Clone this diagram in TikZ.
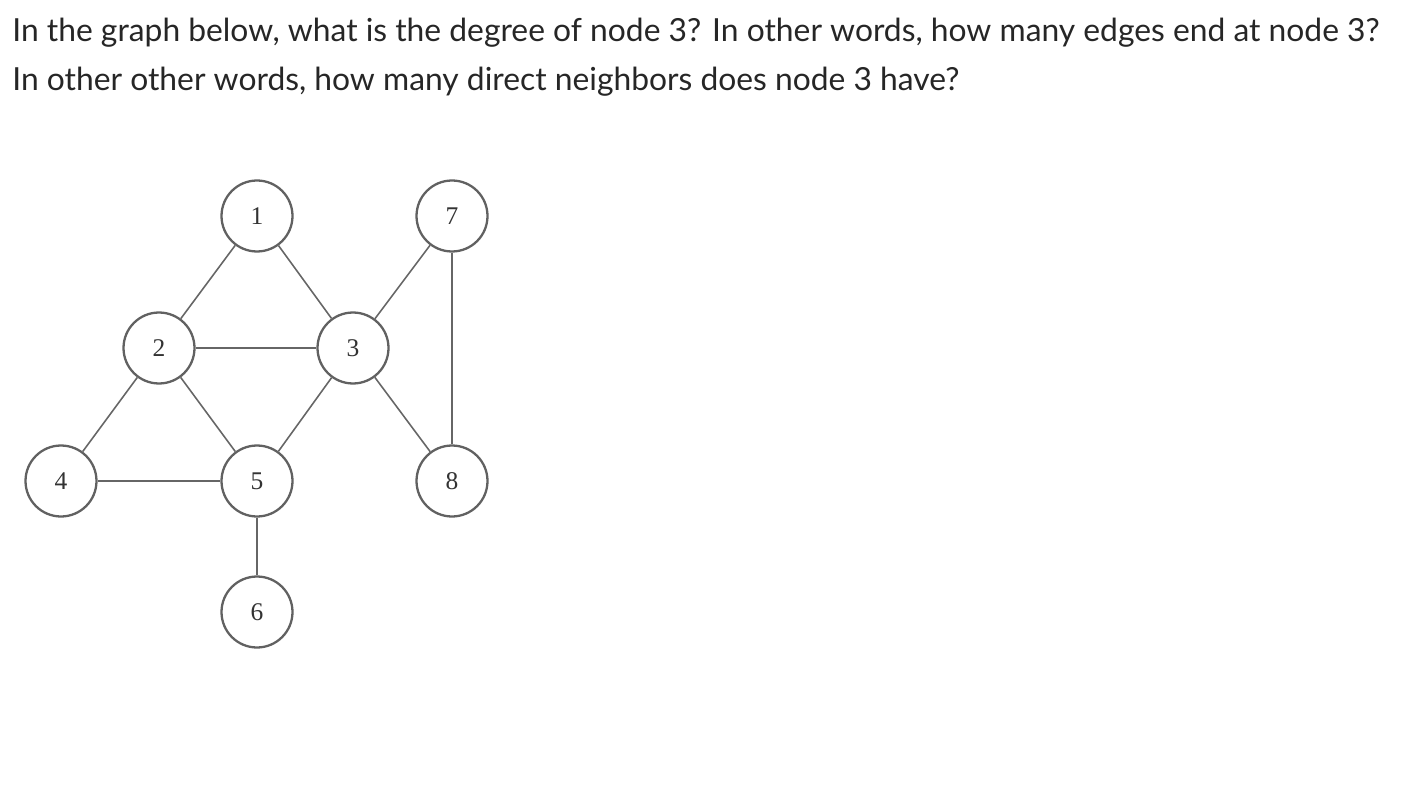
\documentclass[tikz,border=0pt]{standalone}
\usepackage{fontspec}
\setmainfont{Lato}
\newfontfamily\numfont{Liberation Serif}
\begin{document}
\begin{tikzpicture}[x=0.02cm,y=-0.02cm,
  vtx/.style={circle,draw=black!62,line width=1.3pt,minimum size=1.42cm,inner sep=0pt,font=\numfont\fontsize{14.5}{14.5}\selectfont,text=black!80,fill=white},
  edge/.style={draw=black!60,line width=0.9pt}]
\useasboundingbox (0,0) rectangle (1412,790);
\node[anchor=west,inner sep=0pt,font=\fontsize{18.1}{22}\selectfont,text=black!85] (l1) at (12,33) {In the graph below, what is the degree of node 3? In other words, how many edges end at node 3?};
\node[anchor=west,inner sep=0pt,font=\fontsize{18.1}{22}\selectfont,text=black!85] (l2) at (12,82) {In other other words, how many direct neighbors does node 3 have?};
\node[vtx] (n1) at (257,216) {1};
\node[vtx] (n7) at (452,216) {7};
\node[vtx] (n2) at (159,348) {2};
\node[vtx] (n3) at (353,348) {3};
\node[vtx] (n4) at (61,481) {4};
\node[vtx] (n5) at (257,481) {5};
\node[vtx] (n8) at (452,481) {8};
\node[vtx] (n6) at (257,612) {6};
\foreach \a/\b in {n1/n2,n1/n3,n3/n7,n7/n8,n2/n3,n2/n4,n2/n5,n3/n5,n3/n8,n4/n5,n5/n6}
  \draw[edge] (\a) -- (\b);
\end{tikzpicture}
\end{document}
